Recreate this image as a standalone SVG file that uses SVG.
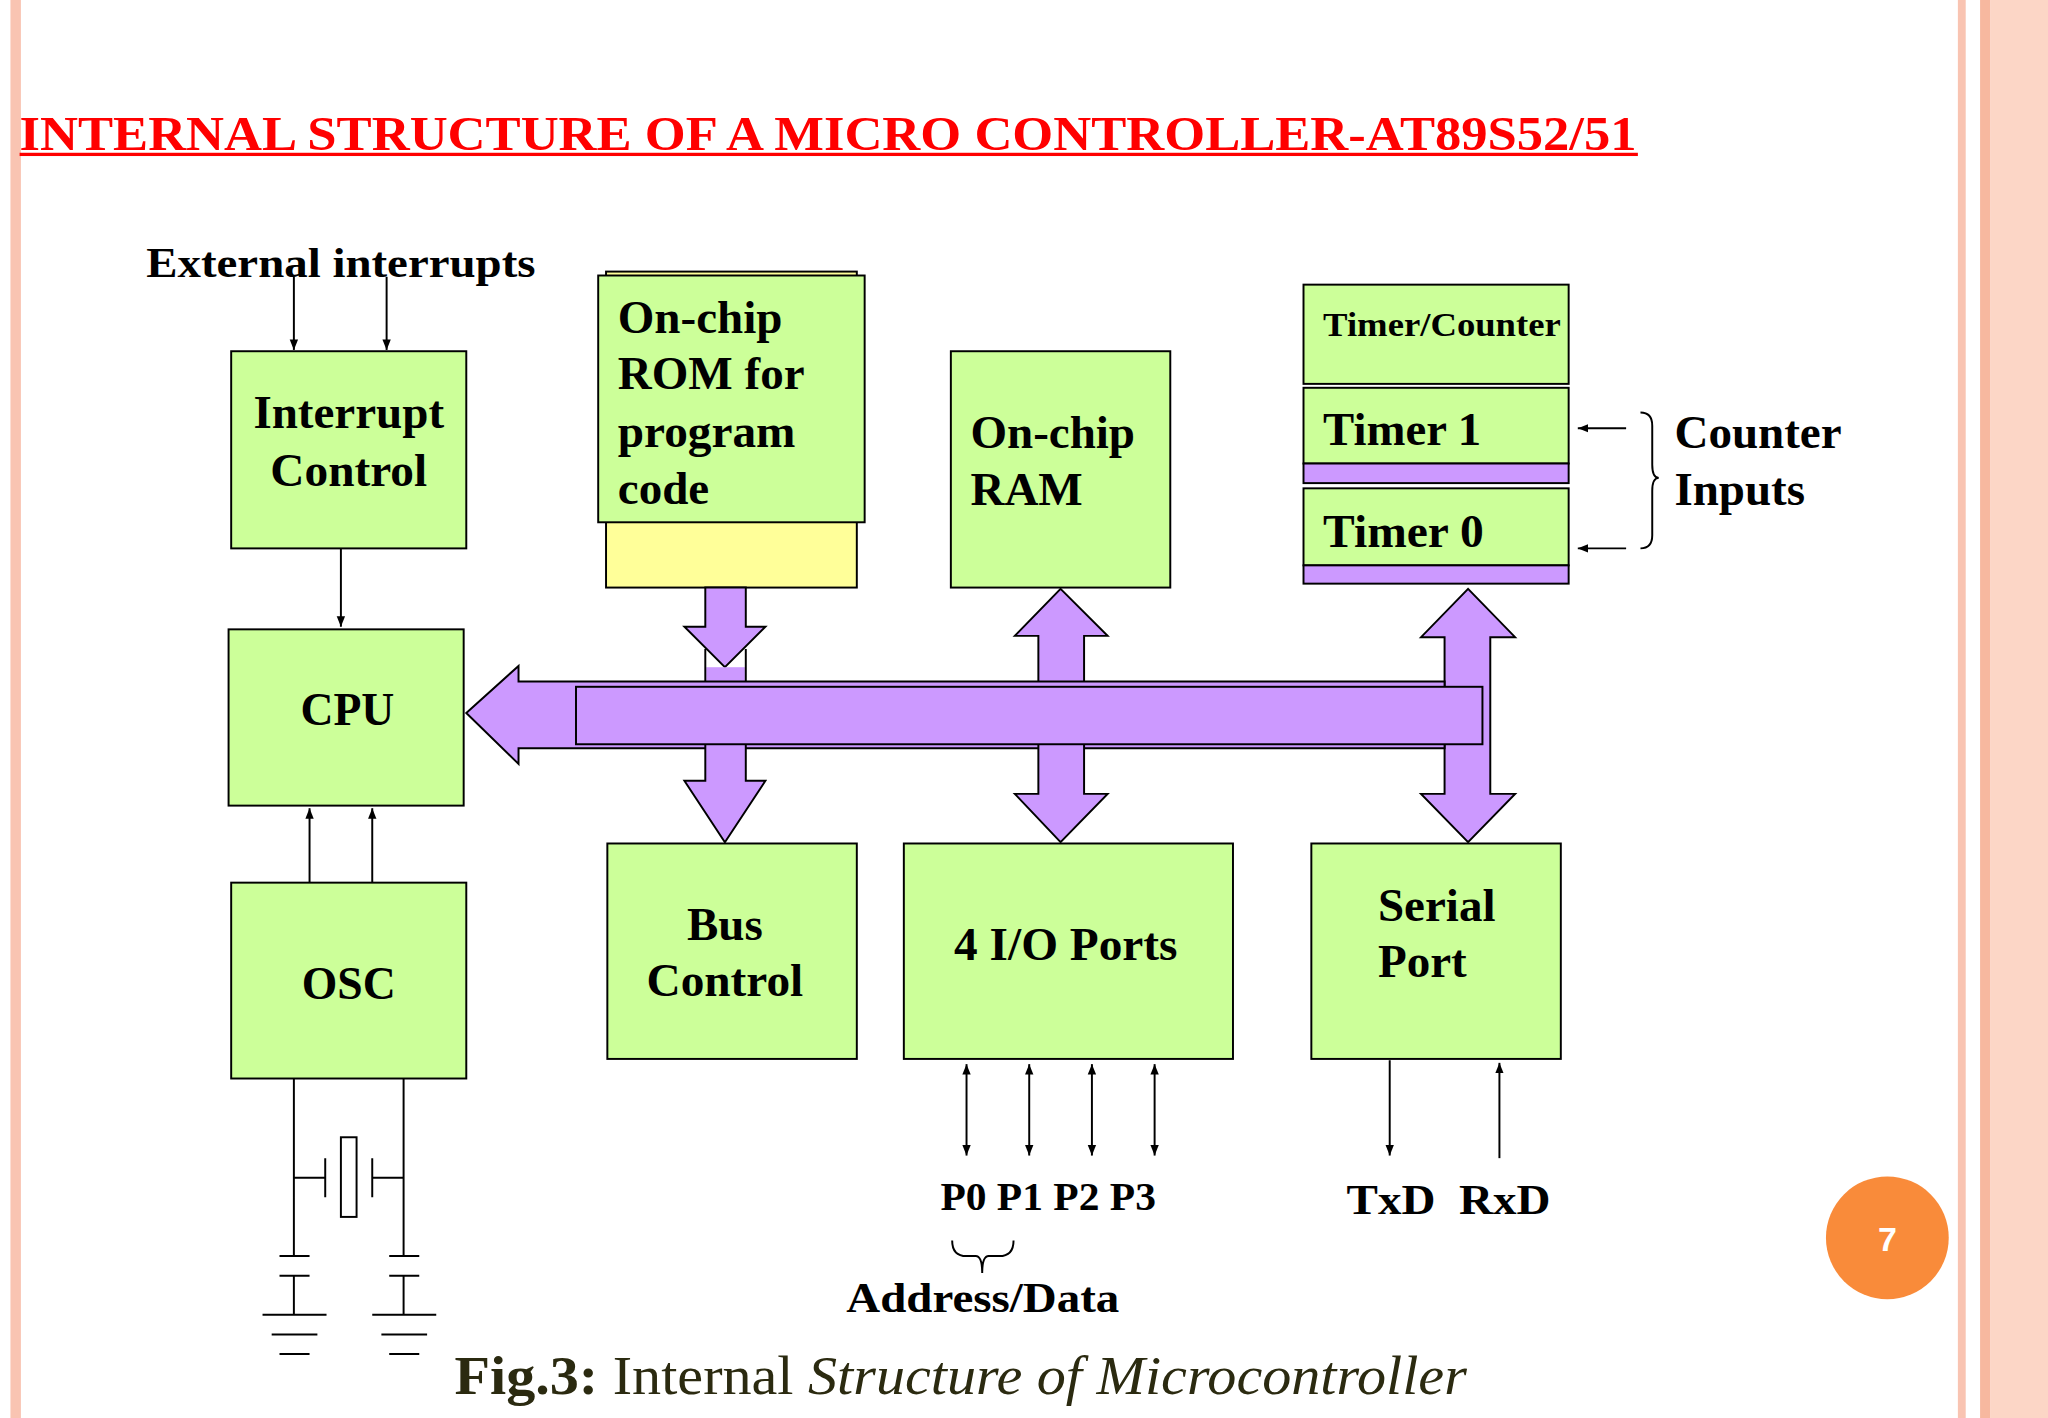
<svg xmlns="http://www.w3.org/2000/svg" width="2048" height="1418" viewBox="0 0 2048 1418">
<defs>
<marker id="ah" viewBox="0 0 10 10" refX="10" refY="5" markerWidth="8" markerHeight="8" markerUnits="userSpaceOnUse" orient="auto-start-reverse"><path d="M0,1 L10,5 L0,9 Z" fill="#000"/></marker>
<style>
.box{fill:#ccff99;stroke:#000;stroke-width:1.5}
.pur{fill:#cc99ff;stroke:#000;stroke-width:1.5}
.t{font-family:"Liberation Serif",serif;font-weight:bold;fill:#000}
.ln{stroke:#000;stroke-width:1.5;fill:none}
.ar{stroke:#000;stroke-width:1.5;fill:none;marker-end:url(#ah)}
.ar2{stroke:#000;stroke-width:1.5;fill:none;marker-end:url(#ah);marker-start:url(#ah)}
</style>
</defs>
<rect width="2048" height="1418" fill="#fff"/>
<g transform="scale(1.30612 1.3057)">
<g id="borders">
<rect x="8" y="0" width="8" height="1086" fill="#f9c4b2"/>
<rect x="1499" y="0" width="6" height="1086" fill="#f9c4b2"/>
<rect x="1516" y="0" width="8" height="1086" fill="#f7b89f"/>
<rect x="1524" y="0" width="44" height="1086" fill="#fcd6c6"/>
</g>
<g id="title"><text x="15" y="115" font-family="Liberation Serif,serif" font-weight="bold" font-size="37" fill="#ff0000" textLength="1238" lengthAdjust="spacingAndGlyphs">INTERNAL STRUCTURE OF A MICRO CONTROLLER-AT89S52/51</text>
<rect x="15" y="117" width="1239" height="2.5" fill="#ff0000"/></g>
<g id="connectors">
<path class="ar" d="M225,212 V268"/>
<path class="ar" d="M296,212 V268"/>
<path class="ar" d="M261,420 V480"/>
<path class="ar" d="M237,676 V619"/>
<path class="ar" d="M285,676 V619"/>
<path class="ar" d="M1245,328 H1208"/>
<path class="ar" d="M1245,420 H1208"/>
<path class="ar2" d="M740,815 V885"/>
<path class="ar2" d="M788,815 V885"/>
<path class="ar2" d="M836,815 V885"/>
<path class="ar2" d="M884,815 V885"/>
<path class="ar" d="M1064,812 V885"/>
<path class="ar" d="M1148,887 V814"/>
</g>
<g id="ext"><text class="t" x="112" y="212" font-size="33" textLength="298" lengthAdjust="spacingAndGlyphs">External interrupts</text></g>
<g id="interrupt"><rect class="box" x="177" y="269" width="180" height="151"/>
<text class="t" x="267" y="328" font-size="35" text-anchor="middle" textLength="146" lengthAdjust="spacingAndGlyphs">Interrupt</text>
<text class="t" x="267" y="372" font-size="35" text-anchor="middle" textLength="120" lengthAdjust="spacingAndGlyphs">Control</text></g>
<g id="cpu"><rect class="box" x="175" y="482" width="180" height="135"/>
<text class="t" x="266" y="555" font-size="35" text-anchor="middle">CPU</text></g>
<g id="osc"><rect class="box" x="177" y="676" width="180" height="150"/>
<text class="t" x="267" y="765" font-size="35" text-anchor="middle">OSC</text></g>
<g id="crystal">
<path class="ln" d="M225,826 V962 M309,826 V962 M225,902 H249 M249,887 V917 M309,902 H285 M285,887 V917"/>
<rect x="261" y="871" width="12" height="61" fill="#fff" stroke="#000" stroke-width="1.5"/>
<path class="ln" d="M214,962 H237 M214,977 H237 M225,977 V1007 M201,1007 H250 M208,1022 H243 M214,1037 H237"/>
<path class="ln" d="M298,962 H321 M298,977 H321 M309,977 V1007 M285,1007 H334 M292,1022 H327 M298,1037 H321"/>
</g>
<g id="rom"><rect x="464" y="208" width="192" height="242" fill="#ffff99" stroke="#000" stroke-width="1.5"/>
<rect class="box" x="458" y="211" width="204" height="189"/>
<text class="t" x="473" y="255" font-size="35" textLength="126" lengthAdjust="spacingAndGlyphs">On-chip</text>
<text class="t" x="473" y="298" font-size="35" textLength="143" lengthAdjust="spacingAndGlyphs">ROM for</text>
<text class="t" x="473" y="342" font-size="35" textLength="136" lengthAdjust="spacingAndGlyphs">program</text>
<text class="t" x="473" y="386" font-size="35" textLength="70" lengthAdjust="spacingAndGlyphs">code</text></g>
<g id="ram"><rect class="box" x="728" y="269" width="168" height="181"/>
<text class="t" x="743" y="343" font-size="35" textLength="126" lengthAdjust="spacingAndGlyphs">On-chip</text>
<text class="t" x="743" y="387" font-size="35" textLength="86" lengthAdjust="spacingAndGlyphs">RAM</text></g>
<g id="timer">
<rect class="box" x="998" y="218" width="203" height="76"/>
<text class="t" x="1013" y="257" font-size="26" textLength="182" lengthAdjust="spacingAndGlyphs">Timer/Counter</text>
<rect class="box" x="998" y="297" width="203" height="58"/>
<rect class="pur" x="998" y="355" width="203" height="15"/>
<rect class="box" x="998" y="374" width="203" height="59"/>
<rect class="pur" x="998" y="433" width="203" height="14"/>
<text class="t" x="1013" y="341" font-size="35" textLength="121" lengthAdjust="spacingAndGlyphs">Timer 1</text>
<text class="t" x="1013" y="419" font-size="35" textLength="123" lengthAdjust="spacingAndGlyphs">Timer 0</text>
</g>
<g id="counter">
<path class="ln" d="M1256,316 Q1265,316 1265,326 V356 Q1265,366 1270,366 Q1265,366 1265,376 V410 Q1265,420 1256,420"/>
<text class="t" x="1282" y="343" font-size="35" textLength="128" lengthAdjust="spacingAndGlyphs">Counter</text>
<text class="t" x="1282" y="387" font-size="35" textLength="100" lengthAdjust="spacingAndGlyphs">Inputs</text>
</g>
<g id="bus">
<path class="pur" d="M540,450 V480 H524 L555,511 L586,480 H571 V450 Z"/>
<rect x="540.7" y="511" width="29.6" height="14" fill="#cc99ff"/>
<path class="ln" d="M540,497 V522 M571,497 V522"/>
<path class="pur" d="M812,451 L848,487 H830 V530 H795 V487 H777 Z"/>
<path class="pur" d="M1124,451 L1160,488 H1141 V608 H1160 L1124,645 L1088,608 H1106 V488 H1088 Z"/>
<path class="pur" d="M357,546 L397,510 V522 H1106 V573 H397 V585 Z"/>
<path class="pur" d="M540,565 V598 H524 L555,645 L586,598 H571 V565 Z"/>
<path class="pur" d="M795,565 V608 H777 L812,645 L848,608 H830 V565 Z"/>
<rect class="pur" x="441" y="526" width="694" height="44"/>
</g>
<g id="busctl"><rect class="box" x="465" y="646" width="191" height="165"/>
<text class="t" x="555" y="720" font-size="35" text-anchor="middle" textLength="58" lengthAdjust="spacingAndGlyphs">Bus</text>
<text class="t" x="555" y="763" font-size="35" text-anchor="middle" textLength="120" lengthAdjust="spacingAndGlyphs">Control</text></g>
<g id="io"><rect class="box" x="692" y="646" width="252" height="165"/>
<text class="t" x="816" y="735" font-size="35" text-anchor="middle" textLength="171" lengthAdjust="spacingAndGlyphs">4 I/O Ports</text></g>
<g id="serial"><rect class="box" x="1004" y="646" width="191" height="165"/>
<text class="t" x="1055" y="705" font-size="35" textLength="90" lengthAdjust="spacingAndGlyphs">Serial</text>
<text class="t" x="1055" y="748" font-size="35" textLength="68" lengthAdjust="spacingAndGlyphs">Port</text></g>
<g id="labels">
<text class="t" x="720" y="927" font-size="30" textLength="165" lengthAdjust="spacingAndGlyphs">P0 P1 P2 P3</text>
<path class="ln" d="M729,950 Q729,962 740,962 H747 Q752,962 752,975 Q752,962 757,962 H765 Q776,962 776,950"/>
<text class="t" x="648" y="1005" font-size="32" textLength="209" lengthAdjust="spacingAndGlyphs">Address/Data</text>
<text class="t" x="1031" y="930" font-size="33" xml:space="preserve" textLength="156" lengthAdjust="spacingAndGlyphs">TxD  RxD</text>
</g>
<g id="page"><circle cx="1445" cy="948" r="47" fill="#f98b3a"/>
<text x="1445" y="958" font-family="Liberation Sans,sans-serif" font-weight="bold" font-size="26" fill="#fff" text-anchor="middle">7</text></g>
<g id="caption"><text x="348" y="1068" font-family="Liberation Serif,serif" font-size="42" fill="#2b2a10" textLength="775" lengthAdjust="spacingAndGlyphs"><tspan font-weight="bold">Fig.3:</tspan> Internal <tspan font-style="italic">Structure of Microcontroller</tspan></text></g>
</g>
</svg>
